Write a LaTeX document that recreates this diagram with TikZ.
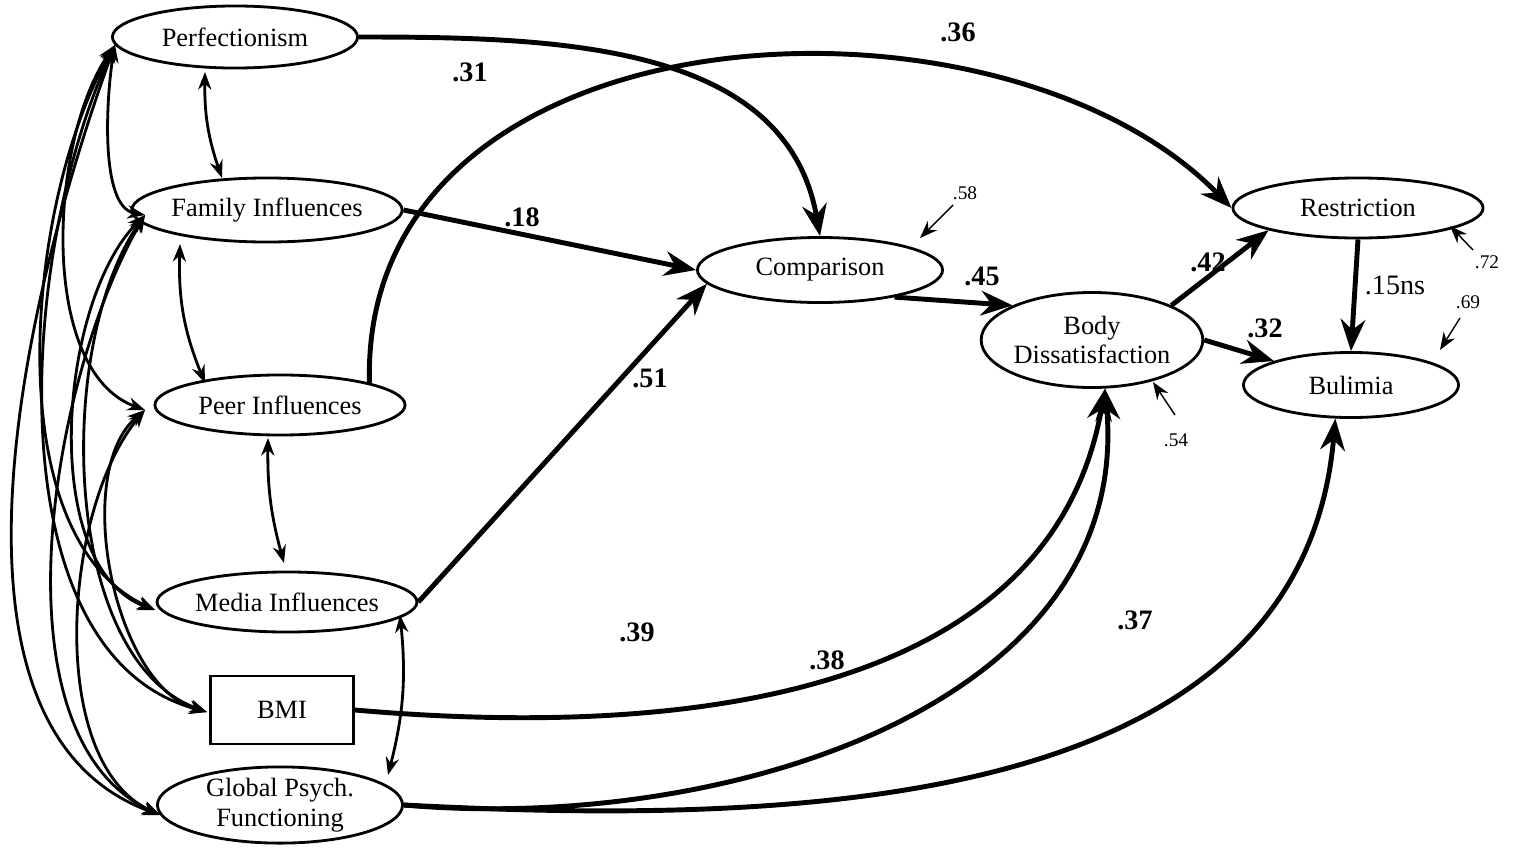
\documentclass[tikz,border=0pt]{standalone}
\usepackage{fontspec}
\setmainfont{Liberation Serif}
\usetikzlibrary{shapes.geometric,arrows.meta}
\begin{document}
\begin{tikzpicture}[x=0.01cm,y=-0.01cm]
      \useasboundingbox(0,0) rectangle (1514,854);
      \tikzset{V/.style = {shape=ellipse, draw, thick, inner sep=0pt, font=\fontsize{7.5}{8.5}\selectfont, align=center}}
      \tikzset{R/.style = {shape=rectangle, draw, thick, minimum width=1.43cm, minimum height=0.68cm, font=\fontsize{7.5}{8.5}\selectfont}}
      \tikzset{E/.style = {draw, line width=1.4pt, -{Stealth[length=9pt,width=7pt]}}}
      \tikzset{C/.style = {draw, thick, {Stealth[length=5pt]}-{Stealth[length=5pt]}}}
      \tikzset{Z/.style = {draw, thin, -{Stealth[length=5pt]}}}
      \tikzset{L/.style = {font=\fontsize{8}{9}\selectfont\bfseries}}
      \tikzset{S/.style = {font=\fontsize{5.5}{6}\selectfont}}
      \node[V, minimum width=2.45cm, minimum height=0.62cm](perf) at (235,37) {Perfectionism};
      \node[V, minimum width=2.45cm, minimum height=0.64cm](fam) at (267,210) {Family Influences};
      \node[V, minimum width=2.5cm, minimum height=0.6cm](peer) at (280,405) {Peer Influences};
      \node[V, minimum width=2.55cm, minimum height=0.6cm](media) at (287,602) {Media Influences};
      \node[R](bmi) at (282,710) {BMI};
      \node[V, minimum width=2.45cm, minimum height=0.65cm](glob) at (280,805) {Global Psych.\\Functioning};
      \node[V, minimum width=2.45cm, minimum height=0.65cm](comp) at (820,270) {Comparison};
      \node[V, minimum width=2.1cm, minimum height=0.95cm](body) at (1092,340) {Body\\Dissatisfaction};
      \node[V, minimum width=2.5cm, minimum height=0.6cm](restr) at (1358,208) {Restriction};
      \node[V, minimum width=2.15cm, minimum height=0.65cm](bul) at (1351,385) {Bulimia};
      % paths
      \draw[E](perf.east) to[out=0,in=100] (comp.north);
      \draw[E](fam.east) to (comp.west);
      \draw[E](peer.north east) .. controls (360,0) and (1000,-30) .. (restr.west);
      \draw[E](media.east) to (comp.187);
      \draw[E](comp.-20) to (body.north west);
      \draw[E](body.north east) to (restr.south west);
      \draw[E](body.east) to (bul.north west);
      \draw[E](restr.south) to (bul.north);
      \draw[E](bmi.east) to[out=-5,in=-100] (body.-75);
      \draw[E](glob.east) to[out=-5,in=-85] (body.-75);
      \draw[E](glob.east) to[out=-3,in=-95] (bul.-115);
      \node[L] (l31) at (470,72) {.31};
      \node[L] (l18) at (522,217) {.18};
      \node[L] (l36) at (958,32) {.36};
      \node[L] (l51) at (650,378) {.51};
      \node[L] (l45) at (982,276) {.45};
      \node[L] (l42) at (1208,262) {.42};
      \node[L] (l32) at (1265,328) {.32};
      \node[font=\fontsize{8}{9}\selectfont] (l15) at (1395,285) {.15ns};
      \node[L] (l39) at (637,632) {.39};
      \node[L] (l38) at (827,660) {.38};
      \node[L] (l37) at (1135,620) {.37};
      % residuals
      \node[S] (e1) at (965,193) {.58};
      \node[S] (e2) at (1176,440) {.54};
      \node[S] (e3) at (1487,262) {.72};
      \node[S] (e4) at (1468,302) {.69};
      \draw[Z](953,205) to (920,238);
      \draw[Z](1175,415) to (1153,382);
      \draw[Z](1473,250) to (1450,226);
      \draw[Z](1460,318) to (1440,350);
      % correlations
      \draw[C](205,72) to[bend right=10] (222,178);
      \draw[C](180,244) to[bend right=12] (205,383);
      \draw[C](268,438) to[bend right=8] (284,563);
      \draw[C](400,615) to[bend left=10] (388,775);
      \draw[C](115,45) to[out=235,in=160,looseness=0.8] (145,410);
      \draw[C](115,45) to[out=240,in=155,looseness=0.8] (155,610);
      \draw[C](115,45) to[out=245,in=165,looseness=0.85] (207,712);
      \draw[C](115,45) to[out=250,in=160,looseness=0.85] (160,815);
      \draw[C](145,215) to[out=225,in=160,looseness=0.8] (155,610);
      \draw[C](145,215) to[out=235,in=160,looseness=0.8] (207,712);
      \draw[C](145,215) to[out=240,in=155,looseness=0.8] (160,815);
      \draw[C](145,410) to[out=220,in=165,looseness=0.8] (207,712);
      \draw[C](145,410) to[out=230,in=155,looseness=0.8] (160,815);
      \draw[C](115,45) to[out=260,in=170,looseness=0.7] (145,215);
    \end{tikzpicture}
\end{document}
